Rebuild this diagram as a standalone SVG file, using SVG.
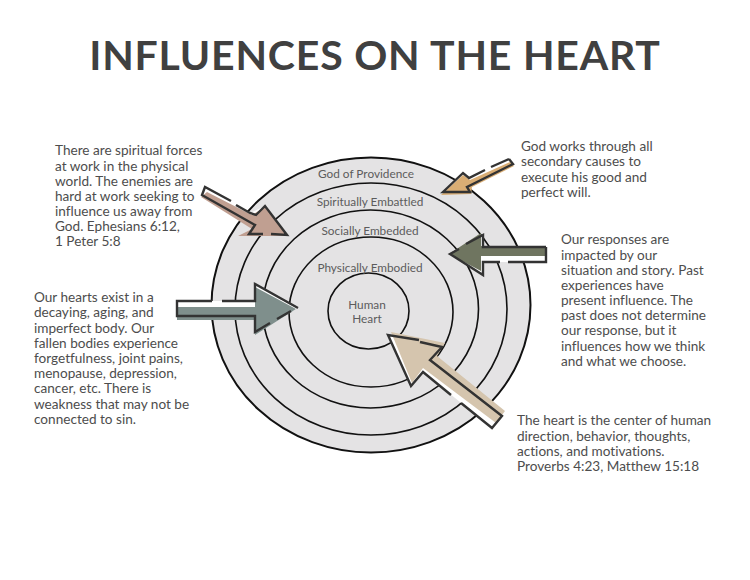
<svg xmlns="http://www.w3.org/2000/svg" width="750" height="580" viewBox="0 0 750 580">
<style>
text{font-family:"Lato","Open Sans","Liberation Sans",sans-serif;fill:#4d4d4d;font-variant-ligatures:none}
.title{font-size:41px;font-weight:700;letter-spacing:0.8px;fill:#404040}
.b{font-size:13.6px}
.l{font-size:11.8px;fill:#5c5c5c;text-anchor:middle}
.r{fill:none;stroke:#111;stroke-width:1.6}
.o{fill:none;stroke:#333;stroke-width:2.4;stroke-linejoin:miter}
</style>
<rect width="750" height="580" fill="#fff"/>
<text class="title" x="375" y="70" text-anchor="middle">INFLUENCES ON THE HEART</text>
<g id="rings">
<ellipse cx="371" cy="305" rx="159.500" ry="147.500" fill="#e4e3e4" stroke="#111" stroke-width="2"/>
<ellipse class="r" cx="371" cy="309" rx="136" ry="126"/>
<ellipse class="r" cx="370.500" cy="309" rx="108" ry="99"/>
<ellipse class="r" cx="371" cy="312" rx="82" ry="75"/>
<ellipse class="r" cx="368.500" cy="311" rx="40.500" ry="38"/>
</g>
<g id="ring-labels">
<text class="l" x="366" y="178">God of Providence</text>
<text class="l" x="370" y="206">Spiritually Embattled</text>
<text class="l" x="370" y="235">Socially Embedded</text>
<text class="l" x="370" y="272">Physically Embodied</text>
<text class="l" x="367" y="308.500">Human</text>
<text class="l" x="367" y="323">Heart</text>
</g>
<g id="connectors">
<g id="arrow-pink">
<path d="M205 187L250 213L265 206L287 235L249 234L255 225L202 195Z" fill="#fff"/>
<path d="M201 197L207 192L252 215L265 207L288 236L238 236L252 229Z" fill="#c09f91"/>
<path class="o" d="M231 201L205 187L202 195L255 225L249 234L263 234M271 234L287 235L265 206L256 215L250 213L236 205"/>
</g>
<g id="arrow-teal">
<path d="M177 301H255V284L298 308L255 332V316H177Z" fill="#fff"/>
<path d="M177 307H255V287L296 309L255 335V320H177Z" fill="#7f8f8c"/>
<path class="o" d="M212 301H177V316H255V332L270 323M277 319L291 311M298 308L255 284V301H222"/>
</g>
<g id="arrow-tan">
<path d="M443 193L463 173L469 178L509 158L513 165L470 186L470 192Z" fill="#fff"/>
<path d="M441 195L463 175L470 180L510 162L514 166L472 187L471 194Z" fill="#d9ad74"/>
<path class="o" d="M509 159L491 167M485 170L469 178L463 173L443 192L470 192L467 187L513 164L509 159"/>
</g>
<g id="arrow-olive">
<path d="M546 247H483V235L450 254L483 275V262H546Z" fill="#fff"/>
<path d="M546 246H481V233L449 254L481 271V256H546Z" fill="#6f7560"/>
<path class="o" d="M546 247H483V235L466 244M459 249L450 254L483 275V262H500M508 262H546V247"/>
</g>
<g id="arrow-beige">
<path d="M388 335L442 347L430 360L502 416L492 428L423 372L411 386Z" fill="#fff"/>
<path d="M391 332L445 343L437 356L505 411L496 423L423 368L412 383Z" fill="#d5c5ae"/>
<path class="o" d="M419 340L388 335L411 386L423 372L451 395M461 403L492 428L502 416L430 360L442 347L420 342"/>
</g>
</g>
<g id="note-spiritual">
<text class="b" x="55" y="155">There are spiritual forces</text>
<text class="b" x="55" y="170.500">at work in the physical</text>
<text class="b" x="55" y="185.500">world. The enemies are</text>
<text class="b" x="55" y="200.700">hard at work seeking to</text>
<text class="b" x="55" y="216">influence us away from</text>
<text class="b" x="55" y="231">God. Ephesians 6:12,</text>
<text class="b" x="55" y="246">1 Peter 5:8</text>
</g>
<g id="note-physical">
<text class="b" x="34" y="302">Our hearts exist in a</text>
<text class="b" x="34" y="317">decaying, aging, and</text>
<text class="b" x="34" y="332.500">imperfect body. Our</text>
<text class="b" x="34" y="347.500">fallen bodies experience</text>
<text class="b" x="34" y="362.500">forgetfulness, joint pains,</text>
<text class="b" x="34" y="378">menopause, depression,</text>
<text class="b" x="34" y="393">cancer, etc. There is</text>
<text class="b" x="34" y="408.500">weakness that may not be</text>
<text class="b" x="34" y="423.500">connected to sin.</text>
</g>
<g id="note-providence">
<text class="b" x="521" y="151">God works through all</text>
<text class="b" x="521" y="166">secondary causes to</text>
<text class="b" x="521" y="181.500">execute his good and</text>
<text class="b" x="521" y="196.500">perfect will.</text>
</g>
<g id="note-responses">
<text class="b" x="561" y="244">Our responses are</text>
<text class="b" x="561" y="259.500">impacted by our</text>
<text class="b" x="561" y="274.500">situation and story. Past</text>
<text class="b" x="561" y="289.500">experiences have</text>
<text class="b" x="561" y="305">present influence. The</text>
<text class="b" x="561" y="320">past does not determine</text>
<text class="b" x="561" y="335">our response, but it</text>
<text class="b" x="561" y="350.500">influences how we think</text>
<text class="b" x="561" y="365.500">and what we choose.</text>
</g>
<g id="note-heart">
<text class="b" x="517" y="425">The heart is the center of human</text>
<text class="b" x="517" y="440.500">direction, behavior, thoughts,</text>
<text class="b" x="517" y="455.500">actions, and motivations.</text>
<text class="b" x="517" y="470.500">Proverbs 4:23, Matthew 15:18</text>
</g>
</svg>
